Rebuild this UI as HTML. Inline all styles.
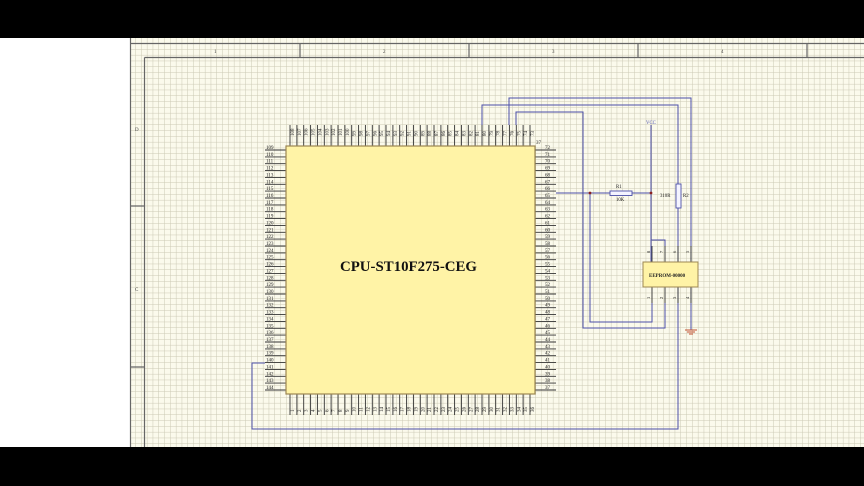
<!DOCTYPE html>
<html><head><meta charset="utf-8"><style>
html,body{margin:0;padding:0;background:#fff;}
svg{display:block;}
text{font-family:"Liberation Serif",serif;}
</style></head><body>
<svg width="864" height="486" viewBox="0 0 864 486" xmlns="http://www.w3.org/2000/svg">
<defs>
<pattern id="g" x="130" y="38" width="5.8" height="5.8" patternUnits="userSpaceOnUse">
<rect width="5.8" height="5.8" fill="#fbfaec"/>
<path d="M5.8 0V5.8M0 5.8H5.8" stroke="#cbc9b4" stroke-width="1" fill="none"/>
</pattern>
</defs>
<rect x="0" y="0" width="864" height="486" fill="#fff"/>
<rect x="130" y="38" width="734" height="409" fill="url(#g)"/>
<g stroke="#666" stroke-width="1.2" fill="none">
<path d="M130.5 38V447M130.5 43.5H864M144.5 57.5H864M144.5 57.5V447"/>
<path d="M300 44V57M469 44V57M638 44V57M807 44V57M130 206H144M130 367H144"/>
</g>
<g font-size="5" fill="#444">
<text x="214" y="53">1</text><text x="383" y="53">2</text><text x="552" y="53">3</text><text x="721" y="53">4</text>
<text x="135" y="131">D</text><text x="135" y="291">C</text>
</g>
<rect x="0" y="0" width="864" height="38" fill="#000"/>
<rect x="0" y="447" width="864" height="39" fill="#000"/>

<!-- pins -->
<g stroke="#333" stroke-width="0.9">
<path d="M290 125V146M296.9 125V146M303.7 125V146M310.6 125V146M317.4 125V146M324.3 125V146M331.1 125V146M338 125V146M344.9 125V146M351.7 125V146M358.6 125V146M365.4 125V146M372.3 125V146M379.1 125V146M386 125V146M392.9 125V146M399.7 125V146M406.6 125V146M413.4 125V146M420.3 125V146M427.1 125V146M434 125V146M440.9 125V146M447.7 125V146M454.6 125V146M461.4 125V146M468.3 125V146M475.1 125V146M482 125V146M488.9 125V146M495.7 125V146M502.6 125V146M509.4 125V146M516.3 125V146M523.1 125V146M530 125V146"/>
<path d="M290 394V415M296.9 394V415M303.7 394V415M310.6 394V415M317.4 394V415M324.3 394V415M331.1 394V415M338 394V415M344.9 394V415M351.7 394V415M358.6 394V415M365.4 394V415M372.3 394V415M379.1 394V415M386 394V415M392.9 394V415M399.7 394V415M406.6 394V415M413.4 394V415M420.3 394V415M427.1 394V415M434 394V415M440.9 394V415M447.7 394V415M454.6 394V415M461.4 394V415M468.3 394V415M475.1 394V415M482 394V415M488.9 394V415M495.7 394V415M502.6 394V415M509.4 394V415M516.3 394V415M523.1 394V415M530 394V415"/>
<path d="M265 150H286M265 156.9H286M265 163.7H286M265 170.6H286M265 177.4H286M265 184.3H286M265 191.1H286M265 198H286M265 204.9H286M265 211.7H286M265 218.6H286M265 225.4H286M265 232.3H286M265 239.1H286M265 246H286M265 252.9H286M265 259.7H286M265 266.6H286M265 273.4H286M265 280.3H286M265 287.1H286M265 294H286M265 300.9H286M265 307.7H286M265 314.6H286M265 321.4H286M265 328.3H286M265 335.1H286M265 342H286M265 348.9H286M265 355.7H286M265 362.6H286M265 369.4H286M265 376.3H286M265 383.1H286M265 390H286"/>
<path d="M535 150H556M535 156.9H556M535 163.7H556M535 170.6H556M535 177.4H556M535 184.3H556M535 191.1H556M535 198H556M535 204.9H556M535 211.7H556M535 218.6H556M535 225.4H556M535 232.3H556M535 239.1H556M535 246H556M535 252.9H556M535 259.7H556M535 266.6H556M535 273.4H556M535 280.3H556M535 287.1H556M535 294H556M535 300.9H556M535 307.7H556M535 314.6H556M535 321.4H556M535 328.3H556M535 335.1H556M535 342H556M535 348.9H556M535 355.7H556M535 362.6H556M535 369.4H556M535 376.3H556M535 383.1H556M535 390H556"/>
</g>
<rect x="286" y="146" width="249" height="248" fill="#fff3a6" stroke="#9c8752" stroke-width="1.2"/>
<text x="340" y="271" font-size="15" font-weight="bold" textLength="137" lengthAdjust="spacingAndGlyphs" fill="#111">CPU-ST10F275-CEG</text>

<!-- left labels -->
<g font-size="5" fill="#222">
<text x="266" y="149">109</text><text x="266" y="155.9">110</text><text x="266" y="162.7">111</text><text x="266" y="169.6">112</text><text x="266" y="176.4">113</text><text x="266" y="183.3">114</text><text x="266" y="190.1">115</text><text x="266" y="197">116</text><text x="266" y="203.9">117</text><text x="266" y="210.7">118</text><text x="266" y="217.6">119</text><text x="266" y="224.4">120</text><text x="266" y="231.3">121</text><text x="266" y="238.1">122</text><text x="266" y="245">123</text><text x="266" y="251.9">124</text><text x="266" y="258.7">125</text><text x="266" y="265.6">126</text><text x="266" y="272.4">127</text><text x="266" y="279.3">128</text><text x="266" y="286.1">129</text><text x="266" y="293">130</text><text x="266" y="299.9">131</text><text x="266" y="306.7">132</text><text x="266" y="313.6">133</text><text x="266" y="320.4">134</text><text x="266" y="327.3">135</text><text x="266" y="334.1">136</text><text x="266" y="341">137</text><text x="266" y="347.9">138</text><text x="266" y="354.7">139</text><text x="266" y="361.6">140</text><text x="266" y="368.4">141</text><text x="266" y="375.3">142</text><text x="266" y="382.1">143</text><text x="266" y="389">144</text>
</g>
<!-- right labels -->
<g font-size="5" fill="#222">
<text x="545" y="149">72</text><text x="545" y="155.9">71</text><text x="545" y="162.7">70</text><text x="545" y="169.6">69</text><text x="545" y="176.4">68</text><text x="545" y="183.3">67</text><text x="545" y="190.1">66</text><text x="545" y="197">65</text><text x="545" y="203.9">64</text><text x="545" y="210.7">63</text><text x="545" y="217.6">62</text><text x="545" y="224.4">61</text><text x="545" y="231.3">60</text><text x="545" y="238.1">59</text><text x="545" y="245">58</text><text x="545" y="251.9">57</text><text x="545" y="258.7">56</text><text x="545" y="265.6">55</text><text x="545" y="272.4">54</text><text x="545" y="279.3">53</text><text x="545" y="286.1">52</text><text x="545" y="293">51</text><text x="545" y="299.9">50</text><text x="545" y="306.7">49</text><text x="545" y="313.6">48</text><text x="545" y="320.4">47</text><text x="545" y="327.3">46</text><text x="545" y="334.1">45</text><text x="545" y="341">44</text><text x="545" y="347.9">43</text><text x="545" y="354.7">42</text><text x="545" y="361.6">41</text><text x="545" y="368.4">40</text><text x="545" y="375.3">39</text><text x="545" y="382.1">38</text><text x="545" y="389">37</text>
<text x="536" y="144">37</text>
</g>
<!-- top labels -->
<g font-size="5" fill="#222">
<text transform="translate(294,136) rotate(-90)">108</text><text transform="translate(300.9,136) rotate(-90)">107</text><text transform="translate(307.7,136) rotate(-90)">106</text><text transform="translate(314.6,136) rotate(-90)">105</text><text transform="translate(321.4,136) rotate(-90)">104</text><text transform="translate(328.3,136) rotate(-90)">103</text><text transform="translate(335.1,136) rotate(-90)">102</text><text transform="translate(342,136) rotate(-90)">101</text><text transform="translate(348.9,136) rotate(-90)">100</text><text transform="translate(355.7,136) rotate(-90)">99</text><text transform="translate(362.6,136) rotate(-90)">98</text><text transform="translate(369.4,136) rotate(-90)">97</text><text transform="translate(376.3,136) rotate(-90)">96</text><text transform="translate(383.1,136) rotate(-90)">95</text><text transform="translate(390,136) rotate(-90)">94</text><text transform="translate(396.9,136) rotate(-90)">93</text><text transform="translate(403.7,136) rotate(-90)">92</text><text transform="translate(410.6,136) rotate(-90)">91</text><text transform="translate(417.4,136) rotate(-90)">90</text><text transform="translate(424.3,136) rotate(-90)">89</text><text transform="translate(431.1,136) rotate(-90)">88</text><text transform="translate(438,136) rotate(-90)">87</text><text transform="translate(444.9,136) rotate(-90)">86</text><text transform="translate(451.7,136) rotate(-90)">85</text><text transform="translate(458.6,136) rotate(-90)">84</text><text transform="translate(465.4,136) rotate(-90)">83</text><text transform="translate(472.3,136) rotate(-90)">82</text><text transform="translate(479.1,136) rotate(-90)">81</text><text transform="translate(486,136) rotate(-90)">80</text><text transform="translate(492.9,136) rotate(-90)">79</text><text transform="translate(499.7,136) rotate(-90)">78</text><text transform="translate(506.6,136) rotate(-90)">77</text><text transform="translate(513.4,136) rotate(-90)">76</text><text transform="translate(520.3,136) rotate(-90)">75</text><text transform="translate(527.1,136) rotate(-90)">74</text><text transform="translate(534,136) rotate(-90)">73</text>
</g>
<!-- bottom labels -->
<g font-size="5" fill="#222">
<text transform="translate(294,412) rotate(-90)">1</text><text transform="translate(300.9,412) rotate(-90)">2</text><text transform="translate(307.7,412) rotate(-90)">3</text><text transform="translate(314.6,412) rotate(-90)">4</text><text transform="translate(321.4,412) rotate(-90)">5</text><text transform="translate(328.3,412) rotate(-90)">6</text><text transform="translate(335.1,412) rotate(-90)">7</text><text transform="translate(342,412) rotate(-90)">8</text><text transform="translate(348.9,412) rotate(-90)">9</text><text transform="translate(355.7,412) rotate(-90)">10</text><text transform="translate(362.6,412) rotate(-90)">11</text><text transform="translate(369.4,412) rotate(-90)">12</text><text transform="translate(376.3,412) rotate(-90)">13</text><text transform="translate(383.1,412) rotate(-90)">14</text><text transform="translate(390,412) rotate(-90)">15</text><text transform="translate(396.9,412) rotate(-90)">16</text><text transform="translate(403.7,412) rotate(-90)">17</text><text transform="translate(410.6,412) rotate(-90)">18</text><text transform="translate(417.4,412) rotate(-90)">19</text><text transform="translate(424.3,412) rotate(-90)">20</text><text transform="translate(431.1,412) rotate(-90)">21</text><text transform="translate(438,412) rotate(-90)">22</text><text transform="translate(444.9,412) rotate(-90)">23</text><text transform="translate(451.7,412) rotate(-90)">24</text><text transform="translate(458.6,412) rotate(-90)">25</text><text transform="translate(465.4,412) rotate(-90)">26</text><text transform="translate(472.3,412) rotate(-90)">27</text><text transform="translate(479.1,412) rotate(-90)">28</text><text transform="translate(486,412) rotate(-90)">29</text><text transform="translate(492.9,412) rotate(-90)">30</text><text transform="translate(499.7,412) rotate(-90)">31</text><text transform="translate(506.6,412) rotate(-90)">32</text><text transform="translate(513.4,412) rotate(-90)">33</text><text transform="translate(520.3,412) rotate(-90)">34</text><text transform="translate(527.1,412) rotate(-90)">35</text><text transform="translate(534,412) rotate(-90)">36</text>
</g>

<!-- wires -->
<g stroke="#4b4fa8" stroke-width="1" fill="none">
<path d="M265 363H252V429H678V105H482V125"/>
<path d="M509 125V98H691V330"/>
<path d="M516 125V112H583V328H665V303"/>
<path d="M556 193H610M632 193H651"/>
<path d="M590 193V322H652V303"/>
<path d="M651 125V262M651 240H665V246"/>
</g>
<!-- EEPROM pins -->
<g stroke="#333" stroke-width="0.9">
<path d="M652 246V262M665 246V262M678 246V262M691 246V262M652 287V303M665 287V303M678 287V303M691 287V303"/>
</g>
<rect x="643" y="262" width="55" height="25" fill="#fff3a6" stroke="#9c8752" stroke-width="1"/>
<text x="649" y="277" font-size="5" font-weight="bold" fill="#222">EEPROM-00000</text>
<g font-size="4.5" fill="#222">
<text transform="translate(650,253) rotate(-90)">8</text><text transform="translate(663,253) rotate(-90)">7</text><text transform="translate(676,253) rotate(-90)">6</text><text transform="translate(689,253) rotate(-90)">5</text>
<text transform="translate(650,299) rotate(-90)">1</text><text transform="translate(663,299) rotate(-90)">2</text><text transform="translate(676,299) rotate(-90)">3</text><text transform="translate(689,299) rotate(-90)">4</text>
</g>
<!-- resistors -->
<rect x="610" y="191" width="22" height="4.5" fill="#f4f4ff" stroke="#4b4fa8" stroke-width="0.9"/>
<rect x="676" y="184" width="5" height="24" fill="#f4f4ff" stroke="#4b4fa8" stroke-width="0.9"/>
<circle cx="590" cy="193" r="1.4" fill="#8a2020"/>
<circle cx="651" cy="193" r="1.4" fill="#8a2020"/>
<g font-size="4.8" fill="#222">
<text x="616" y="188">R1</text><text x="616" y="201">10K</text>
<text x="660" y="197">310R</text><text x="683" y="197">R2</text>
<text x="646" y="124" fill="#4b4fa8">VCC</text>
</g>
<!-- ground -->
<g stroke="#c05030" stroke-width="0.9">
<path d="M685 330H697M687 332H695M689 334H693"/>
</g>
</svg>
</body></html>
